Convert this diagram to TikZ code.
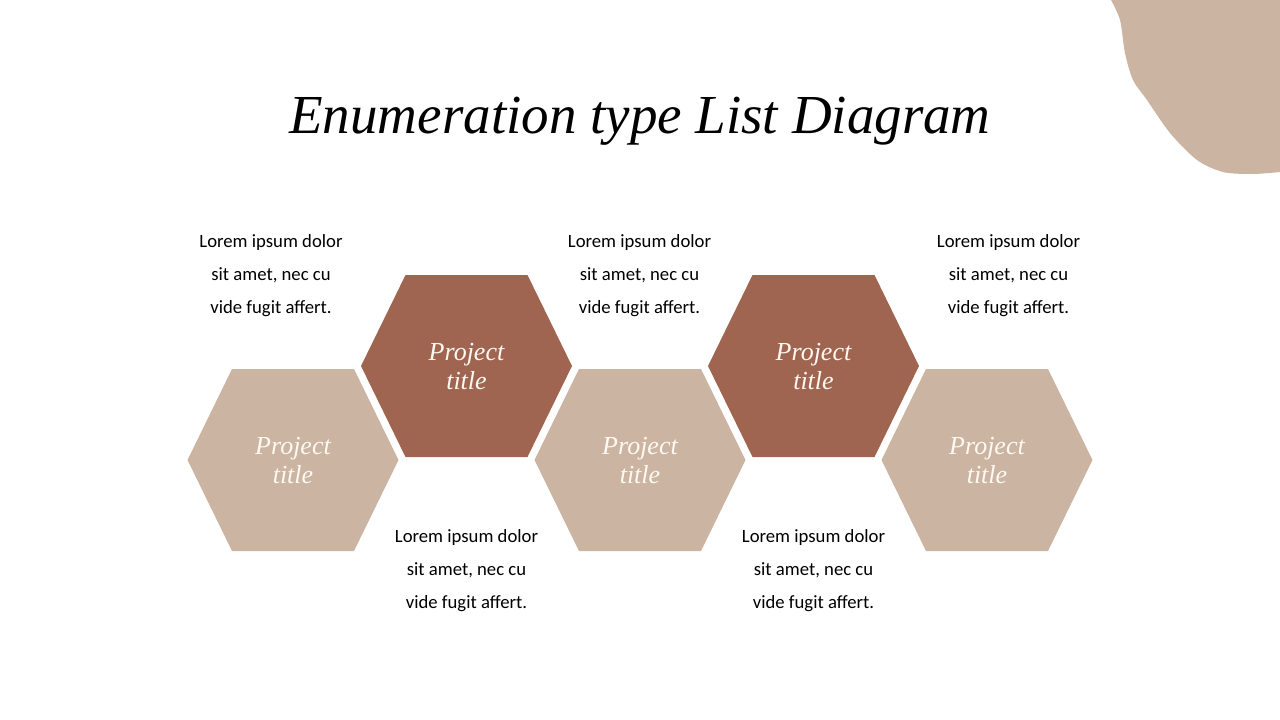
\documentclass[tikz,border=0pt]{standalone}
\usepackage{fontspec}
\setmainfont{Carlito}
\newfontfamily\titlefont{Liberation Serif}
\definecolor{sand}{HTML}{CBB4A1}
\definecolor{rust}{HTML}{A06551}
\definecolor{cream}{HTML}{FFF9F2}
\tikzset{
  hexlight_/.style = {fill=sand},
  hexdark_/.style  = {fill=rust},
  label_/.style    = {text=cream, align=center, font=\titlefont\itshape\fontsize{26}{29}\selectfont},
  note_/.style     = {align=center, font=\fontsize{18.7}{33}\selectfont},
  title_/.style    = {font=\titlefont\itshape\fontsize{55}{60}\selectfont}
}

\begin{document}
\begin{tikzpicture}[x=1pt,y=-1pt]
  \useasboundingbox (0,0) rectangle (1280,720);
  % corner blob
  \fill[sand] plot[smooth] coordinates {(1111,0) (1120,20) (1125,53) (1133,80) (1147,100)
    (1170,133) (1197,160) (1223,172) (1253,174) (1280,172)} -- (1280,0) -- cycle;
  \node[title_, anchor=base] (title) at (640,133) {Enumeration type List Diagram};
  % hexagons
  \foreach \n/\x/\y/\s in {1/293/460/hexlight_, 2/466.5/366/hexdark_, 3/640/460/hexlight_,
                           4/813.5/366/hexdark_, 5/987/460/hexlight_}
  {
    \fill[\s] (\x-105.5,\y) -- (\x-61,\y-91) -- (\x+61,\y-91) -- (\x+105.5,\y)
      -- (\x+61,\y+91) -- (\x-61,\y+91) -- cycle;
    \node[label_] (hex\n) at (\x,\y+1) {Project\\title};
  }
  % notes
  \node[note_] (top1) at (271,276)   {Lorem ipsum dolor\\sit amet, nec cu\\vide fugit affert.};
  \node[note_] (top2) at (639.5,276) {Lorem ipsum dolor\\sit amet, nec cu\\vide fugit affert.};
  \node[note_] (top3) at (1008.5,276) {Lorem ipsum dolor\\sit amet, nec cu\\vide fugit affert.};
  \node[note_] (bot1) at (466.5,571) {Lorem ipsum dolor\\sit amet, nec cu\\vide fugit affert.};
  \node[note_] (bot2) at (813.5,571) {Lorem ipsum dolor\\sit amet, nec cu\\vide fugit affert.};
\end{tikzpicture}
\end{document}
